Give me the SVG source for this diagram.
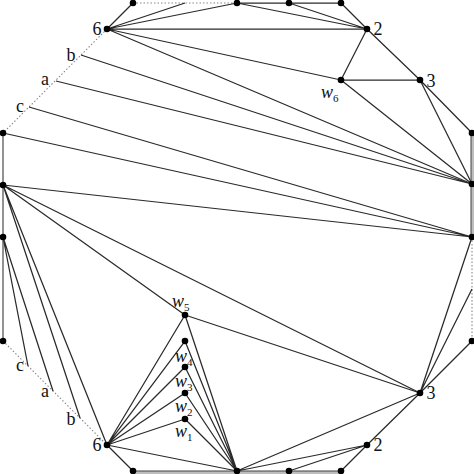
<svg xmlns="http://www.w3.org/2000/svg" width="474" height="474" viewBox="0 0 474 474">
<style>
.e{stroke:#2a2a2a;stroke-width:1.25;fill:none}
.d{stroke:#888;stroke-width:1.1;stroke-dasharray:1.5 2;fill:none}
.band{fill:#bdbdbd;stroke:#444;stroke-width:1}
.g{stroke:#777;stroke-width:1.6;fill:none}
.v{fill:#000}
text{font-family:"Liberation Serif","DejaVu Serif",serif;font-size:18px;fill:#111}
.w{font-style:italic}
.s{font-size:11px;font-style:normal}
</style>
<rect width="474" height="474" fill="#fff"/>
<g id="bands">
<path class="e" d="M237 3H341"/>
<rect class="band" x="471" y="133" width="8" height="104"/>
<rect class="band" x="133" y="471" width="208" height="8"/>
<path class="g" d="M3 133V341"/>
</g>
<g id="connectors">
<path class="d" d="M133 3H237"/>
<path class="d" d="M472 237V341"/>
<path class="d" d="M107 29L3 133"/>
<path class="d" d="M3 341L107 445"/>
<path class="e" d="M107 29L133 3M107 29L185 3M107 29L237 3M107 29H367M107 29L341 80M107 29L472 184"/>
<path class="e" d="M237 3L367 29M289 3L367 29M341 3L367 29M367 29L341 80M367 29L420 80M341 80H420M341 80L472 184M420 80L472 133M420 80L472 184"/>
<path class="e" d="M81 55L472 184M56 81L472 184M29 107L472 237M3 133L472 237M3 185L472 237"/>
<path class="e" d="M3 185L420 393M3 185L185 315M3 185L80 418M3 185L107 445M3 237L28 366M3 237L53 391"/>
<path class="e" d="M107 445L185 315M107 445L185 341M107 445L185 367M107 445L185 393M107 445L185 419M107 445L237 471M107 445L133 471"/>
<path class="e" d="M237 471L185 315M237 471L185 341M237 471L185 367M237 471L185 393M237 471L185 419"/>
<path class="e" d="M185 315L420 393M237 471L420 393M237 471L367 445M289 471L367 445M341 471L367 445M367 445L420 393M472 237L420 393M472 289L420 393M472 341L420 393"/>
</g>
<g id="nodes">
<g id="n6top"><circle class="v" cx="107" cy="29" r="3.3"/><text x="97" y="35" text-anchor="middle">6</text></g>
<g id="t1"><circle class="v" cx="133" cy="3" r="3.3"/></g>
<g id="t2"><circle class="v" cx="237" cy="3" r="3.3"/></g>
<g id="t3"><circle class="v" cx="289" cy="3" r="3.3"/></g>
<g id="t4"><circle class="v" cx="341" cy="3" r="3.3"/></g>
<g id="n2top"><circle class="v" cx="367" cy="29" r="3.3"/><text x="378" y="35" text-anchor="middle">2</text></g>
<g id="w6"><circle class="v" cx="341" cy="80" r="3.3"/><text class="w" x="321" y="98">w<tspan class="s" dy="4">6</tspan></text></g>
<g id="n3top"><circle class="v" cx="420" cy="80" r="3.3"/><text x="431" y="87" text-anchor="middle">3</text></g>
<g id="r1"><circle class="v" cx="472" cy="133" r="3.3"/></g>
<g id="r2"><circle class="v" cx="472" cy="184" r="3.3"/></g>
<g id="r3"><circle class="v" cx="472" cy="237" r="3.3"/></g>
<g id="r4"><circle class="v" cx="472" cy="341" r="3.3"/></g>
<g id="l1"><circle class="v" cx="3" cy="133" r="3.3"/></g>
<g id="l2"><circle class="v" cx="3" cy="185" r="3.3"/></g>
<g id="l3"><circle class="v" cx="3" cy="237" r="3.3"/></g>
<g id="l4"><circle class="v" cx="3" cy="341" r="3.3"/></g>
<g id="labtop"><text x="71" y="61" text-anchor="middle">b</text><text x="45" y="85" text-anchor="middle">a</text><text x="20" y="112" text-anchor="middle">c</text></g>
<g id="labbot"><text x="20" y="371" text-anchor="middle">c</text><text x="45" y="397" text-anchor="middle">a</text><text x="71" y="425" text-anchor="middle">b</text></g>
<g id="n6bot"><circle class="v" cx="107" cy="445" r="3.3"/><text x="97" y="451" text-anchor="middle">6</text></g>
<g id="b1"><circle class="v" cx="133" cy="471" r="3.3"/></g>
<g id="b2"><circle class="v" cx="237" cy="471" r="3.3"/></g>
<g id="b3"><circle class="v" cx="289" cy="471" r="3.3"/></g>
<g id="b4"><circle class="v" cx="341" cy="471" r="3.3"/></g>
<g id="n2bot"><circle class="v" cx="367" cy="445" r="3.3"/><text x="378" y="451" text-anchor="middle">2</text></g>
<g id="n3bot"><circle class="v" cx="420" cy="393" r="3.3"/><text x="431" y="399" text-anchor="middle">3</text></g>
<g id="w5"><circle class="v" cx="185" cy="315" r="3.3"/><text class="w" x="172" y="307">w<tspan class="s" dy="4">5</tspan></text></g>
<g id="w4"><circle class="v" cx="185" cy="341" r="3.3"/><text class="w" x="175" y="362">w<tspan class="s" dy="4">4</tspan></text></g>
<g id="w3"><circle class="v" cx="185" cy="367" r="3.3"/><text class="w" x="175" y="387">w<tspan class="s" dy="4">3</tspan></text></g>
<g id="w2"><circle class="v" cx="185" cy="393" r="3.3"/><text class="w" x="175" y="412">w<tspan class="s" dy="4">2</tspan></text></g>
<g id="w1"><circle class="v" cx="185" cy="419" r="3.3"/><text class="w" x="175" y="437">w<tspan class="s" dy="4">1</tspan></text></g>
</g>
</svg>
